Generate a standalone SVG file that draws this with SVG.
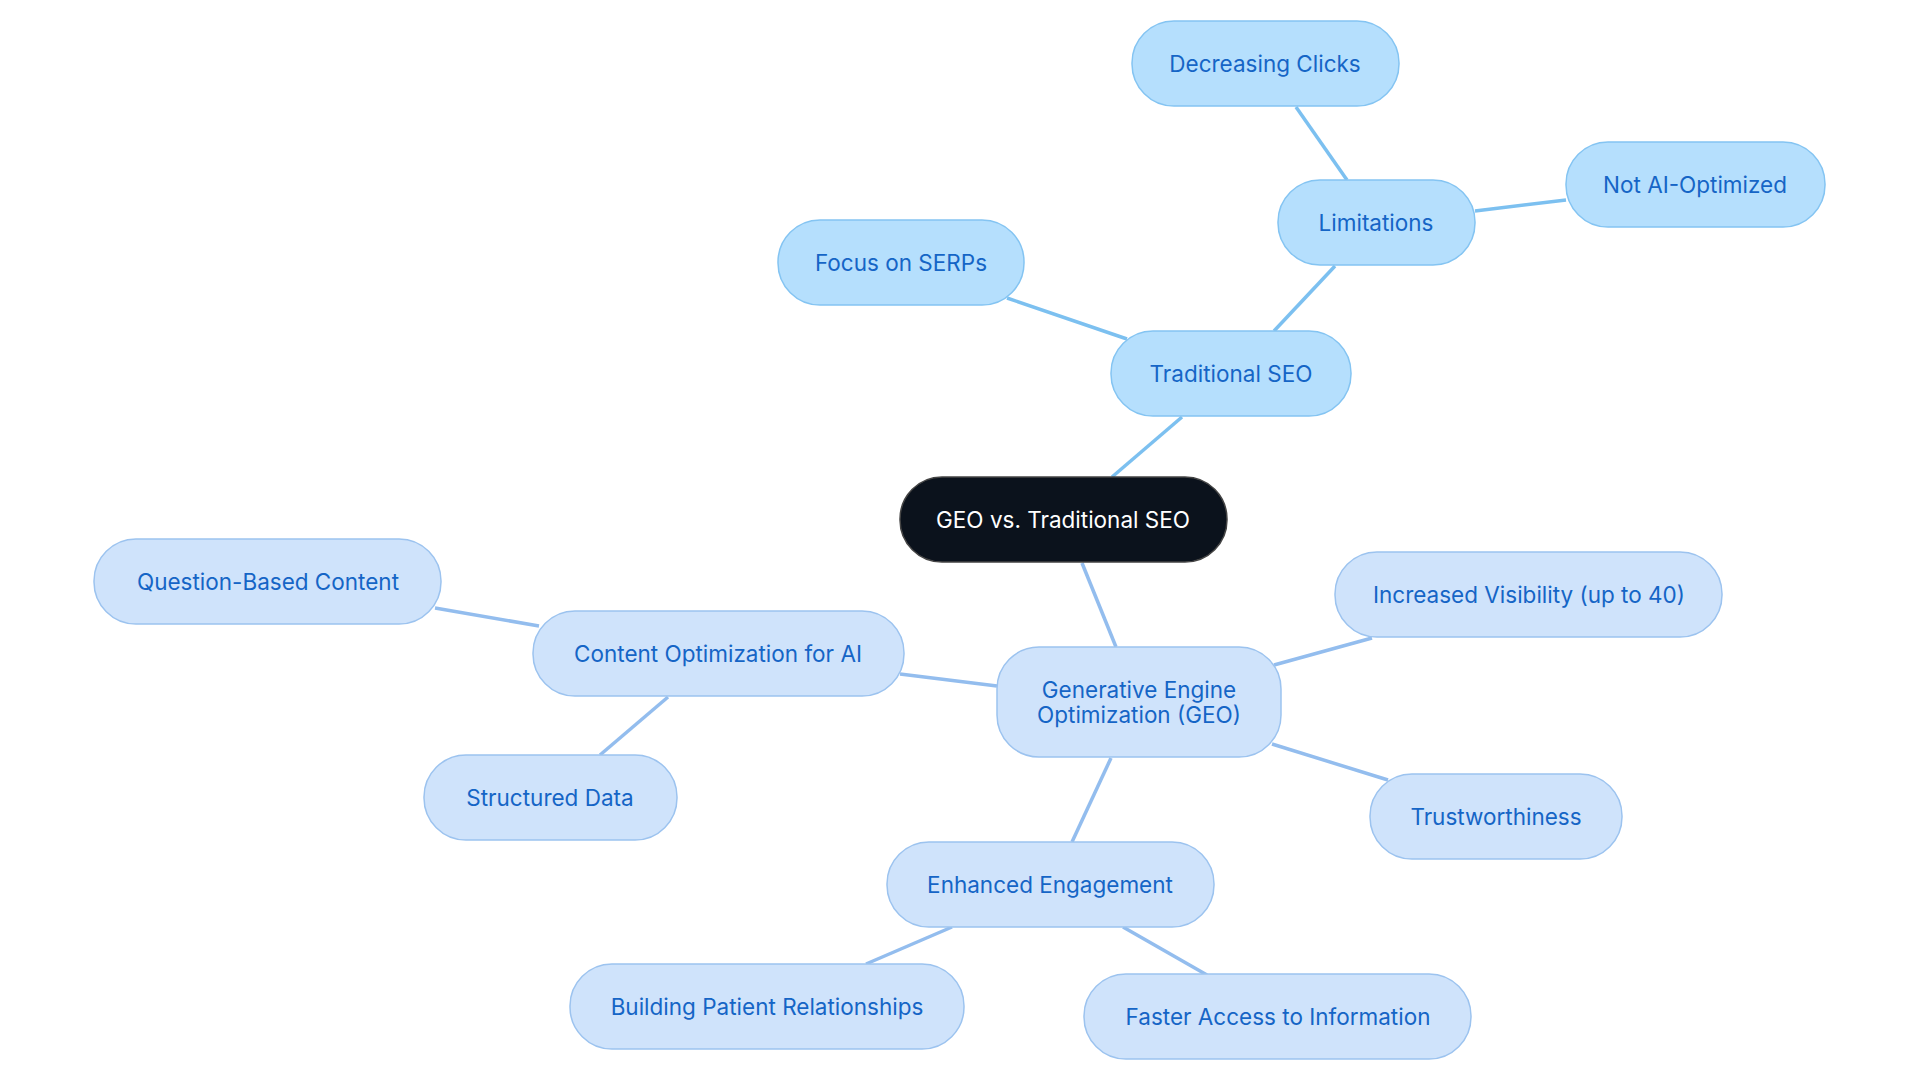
<svg xmlns="http://www.w3.org/2000/svg" width="1920" height="1083" viewBox="0 0 1920 1083">
<style>
text{font-family:Inter,"Noto Sans",sans-serif;font-size:22.5px;text-anchor:middle;dominant-baseline:central;fill:#1565c6}
.a rect{fill:#b5dffd;stroke:#84c4f2;stroke-width:1.5}
.b rect{fill:#cfe3fb;stroke:#9cc3ef;stroke-width:1.5}
.r rect{fill:#0b121c;stroke:#444;stroke-width:1.5}
.r text{fill:#fff}
#edges line{stroke-width:3.5}
.ea{stroke:#7cc0f0}.eb{stroke:#93bdee}
</style>
<g id="edges">
<line class="ea" x1="1112" y1="477" x2="1182" y2="417"/>
<line class="ea" x1="1274" y1="331" x2="1335" y2="266"/>
<line class="ea" x1="1347" y1="180" x2="1296" y2="107"/>
<line class="ea" x1="1475" y1="211" x2="1566" y2="200"/>
<line class="ea" x1="1127" y1="339" x2="1007" y2="298"/>
<line class="eb" x1="1082" y1="563" x2="1116" y2="647"/>
<line class="eb" x1="997" y1="686" x2="900" y2="674"/>
<line class="eb" x1="539" y1="626" x2="435" y2="608"/>
<line class="eb" x1="668" y1="697" x2="600" y2="755"/>
<line class="eb" x1="1274" y1="665" x2="1372" y2="638"/>
<line class="eb" x1="1272" y1="744" x2="1388" y2="780"/>
<line class="eb" x1="1111" y1="758" x2="1072" y2="842"/>
<line class="eb" x1="952" y1="927" x2="866" y2="964"/>
<line class="eb" x1="1123" y1="927" x2="1207" y2="975"/>
</g>
<g id="root" class="r"><rect x="900" y="477" width="327" height="85" rx="42"/><text x="1063" y="519">GEO vs. Traditional SEO</text></g>
<g id="trad" class="a"><rect x="1111" y="331" width="240" height="85" rx="42"/><text x="1231" y="373">Traditional SEO</text></g>
<g id="limit" class="a"><rect x="1278" y="180" width="197" height="85" rx="42"/><text x="1376" y="222">Limitations</text></g>
<g id="clicks" class="a"><rect x="1132" y="21" width="267" height="85" rx="42"/><text x="1265" y="63">Decreasing Clicks</text></g>
<g id="notai" class="a"><rect x="1566" y="142" width="259" height="85" rx="42"/><text x="1695" y="184">Not AI-Optimized</text></g>
<g id="serps" class="a"><rect x="778" y="220" width="246" height="85" rx="42"/><text x="901" y="262">Focus on SERPs</text></g>
<g id="geo" class="b"><rect x="997" y="647" width="284" height="110" rx="42"/><text x="1139" y="689">Generative Engine</text><text x="1139" y="714">Optimization (GEO)</text></g>
<g id="content" class="b"><rect x="533" y="611" width="371" height="85" rx="42"/><text x="718" y="653">Content Optimization for AI</text></g>
<g id="question" class="b"><rect x="94" y="539" width="347" height="85" rx="42"/><text x="268" y="581">Question-Based Content</text></g>
<g id="structured" class="b"><rect x="424" y="755" width="253" height="85" rx="42"/><text x="550" y="797">Structured Data</text></g>
<g id="visibility" class="b"><rect x="1335" y="552" width="387" height="85" rx="42"/><text x="1529" y="594">Increased Visibility (up to 40)</text></g>
<g id="trust" class="b"><rect x="1370" y="774" width="252" height="85" rx="42"/><text x="1496" y="816">Trustworthiness</text></g>
<g id="engage" class="b"><rect x="887" y="842" width="327" height="85" rx="42"/><text x="1050" y="884">Enhanced Engagement</text></g>
<g id="patient" class="b"><rect x="570" y="964" width="394" height="85" rx="42"/><text x="767" y="1006">Building Patient Relationships</text></g>
<g id="faster" class="b"><rect x="1084" y="974" width="387" height="85" rx="42"/><text x="1278" y="1016">Faster Access to Information</text></g>
</svg>
